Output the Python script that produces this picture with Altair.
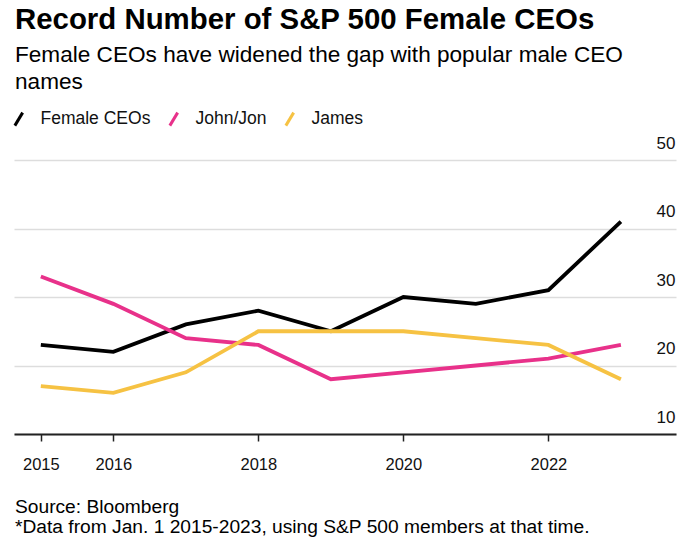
import altair as alt
import pandas as pd

years = [2015, 2016, 2017, 2018, 2019, 2020, 2021, 2022, 2023]
female_ceos = [23, 22, 26, 28, 25, 30, 29, 31, 41]
john_jon = [33, 29, 24, 23, 18, 19, 20, 21, 23]
james = [17, 16, 19, 25, 25, 25, 24, 23, 18]
series_names = ["Female CEOs", "John/Jon", "James"]
series_colors = ["#000000", "#e8318a", "#f6c243"]
x_tick_values = [2015, 2016, 2018, 2020, 2022]
y_tick_values = [10, 20, 30, 40, 50]

title_text = "Record Number of S&P 500 Female CEOs"
subtitle_lines = ["Female CEOs have widened the gap with popular male CEO", "names"]
footer_lines = ["Source: Bloomberg", "*Data from Jan. 1 2015-2023, using S&P 500 members at that time."]

FONT = "Liberation Sans"

rows = []
for name, vals in zip(series_names, [female_ceos, john_jon, james]):
    for yr, v in zip(years, vals):
        rows.append({"year": yr, "series": name, "value": v})
df = pd.DataFrame(rows)

lines = alt.Chart(df).mark_line(strokeWidth=3.8).encode(
    x=alt.X("year:Q",
            scale=alt.Scale(domain=[2014.63, 2023.76], nice=False, zero=False),
            axis=alt.Axis(values=x_tick_values, format="d", title=None, grid=False,
                          domainColor="#222222", domainWidth=2, tickColor="#222222",
                          tickSize=7, tickWidth=1.5, labelFontSize=16.5, labelPadding=15,
                          labelColor="#111111", labelFont=FONT)),
    y=alt.Y("value:Q",
            scale=alt.Scale(domain=[10, 50], nice=False, zero=False),
            axis=alt.Axis(orient="right", values=y_tick_values, title=None, ticks=False,
                          domain=False, grid=True, gridColor="#dddddd", gridWidth=1.5,
                          labelAlign="right", labelBaseline="alphabetic", labelPadding=-1,
                          labelOffset=-12, labelFontSize=17, labelColor="#111111",
                          labelFont=FONT)),
    color=alt.Color("series:N",
                    scale=alt.Scale(domain=series_names, range=series_colors),
                    legend=alt.Legend(orient="none", legendX=-4, legendY=-50,
                                      direction="horizontal", title=None,
                                      symbolType="M-0.6,1L0.6,-1", symbolSize=169,
                                      symbolStrokeWidth=3, labelFontSize=17.5, labelFont=FONT,
                                      labelColor="#111111", labelOffset=13, columnPadding=12)),
)


def txt(s, x, y, size, weight="normal"):
    return alt.Chart(pd.DataFrame({"t": [s]})).mark_text(
        align="left", baseline="alphabetic", fontSize=size, fontWeight=weight,
        font=FONT, color="#000000"
    ).encode(text="t:N", x=alt.value(x), y=alt.value(y))


texts = [
    txt(title_text, 1, -130.7, 29.4, "bold"),
    txt(subtitle_lines[0], 1, -97.7, 22.6),
    txt(subtitle_lines[1], 1, -70.7, 22.6),
    txt(footer_lines[0], 1, 352.7, 19.2),
    txt(footer_lines[1], 1, 373.3, 19.2),
]

chart = alt.layer(lines, *texts).properties(
    width=662, height=274,
    autosize=alt.AutoSizeParams(type="none"),
    padding={"left": 14, "top": 160, "right": 24, "bottom": 113},
).configure_view(stroke=None)

chart.save("out.html", embed_options={"renderer": "svg", "actions": False})
